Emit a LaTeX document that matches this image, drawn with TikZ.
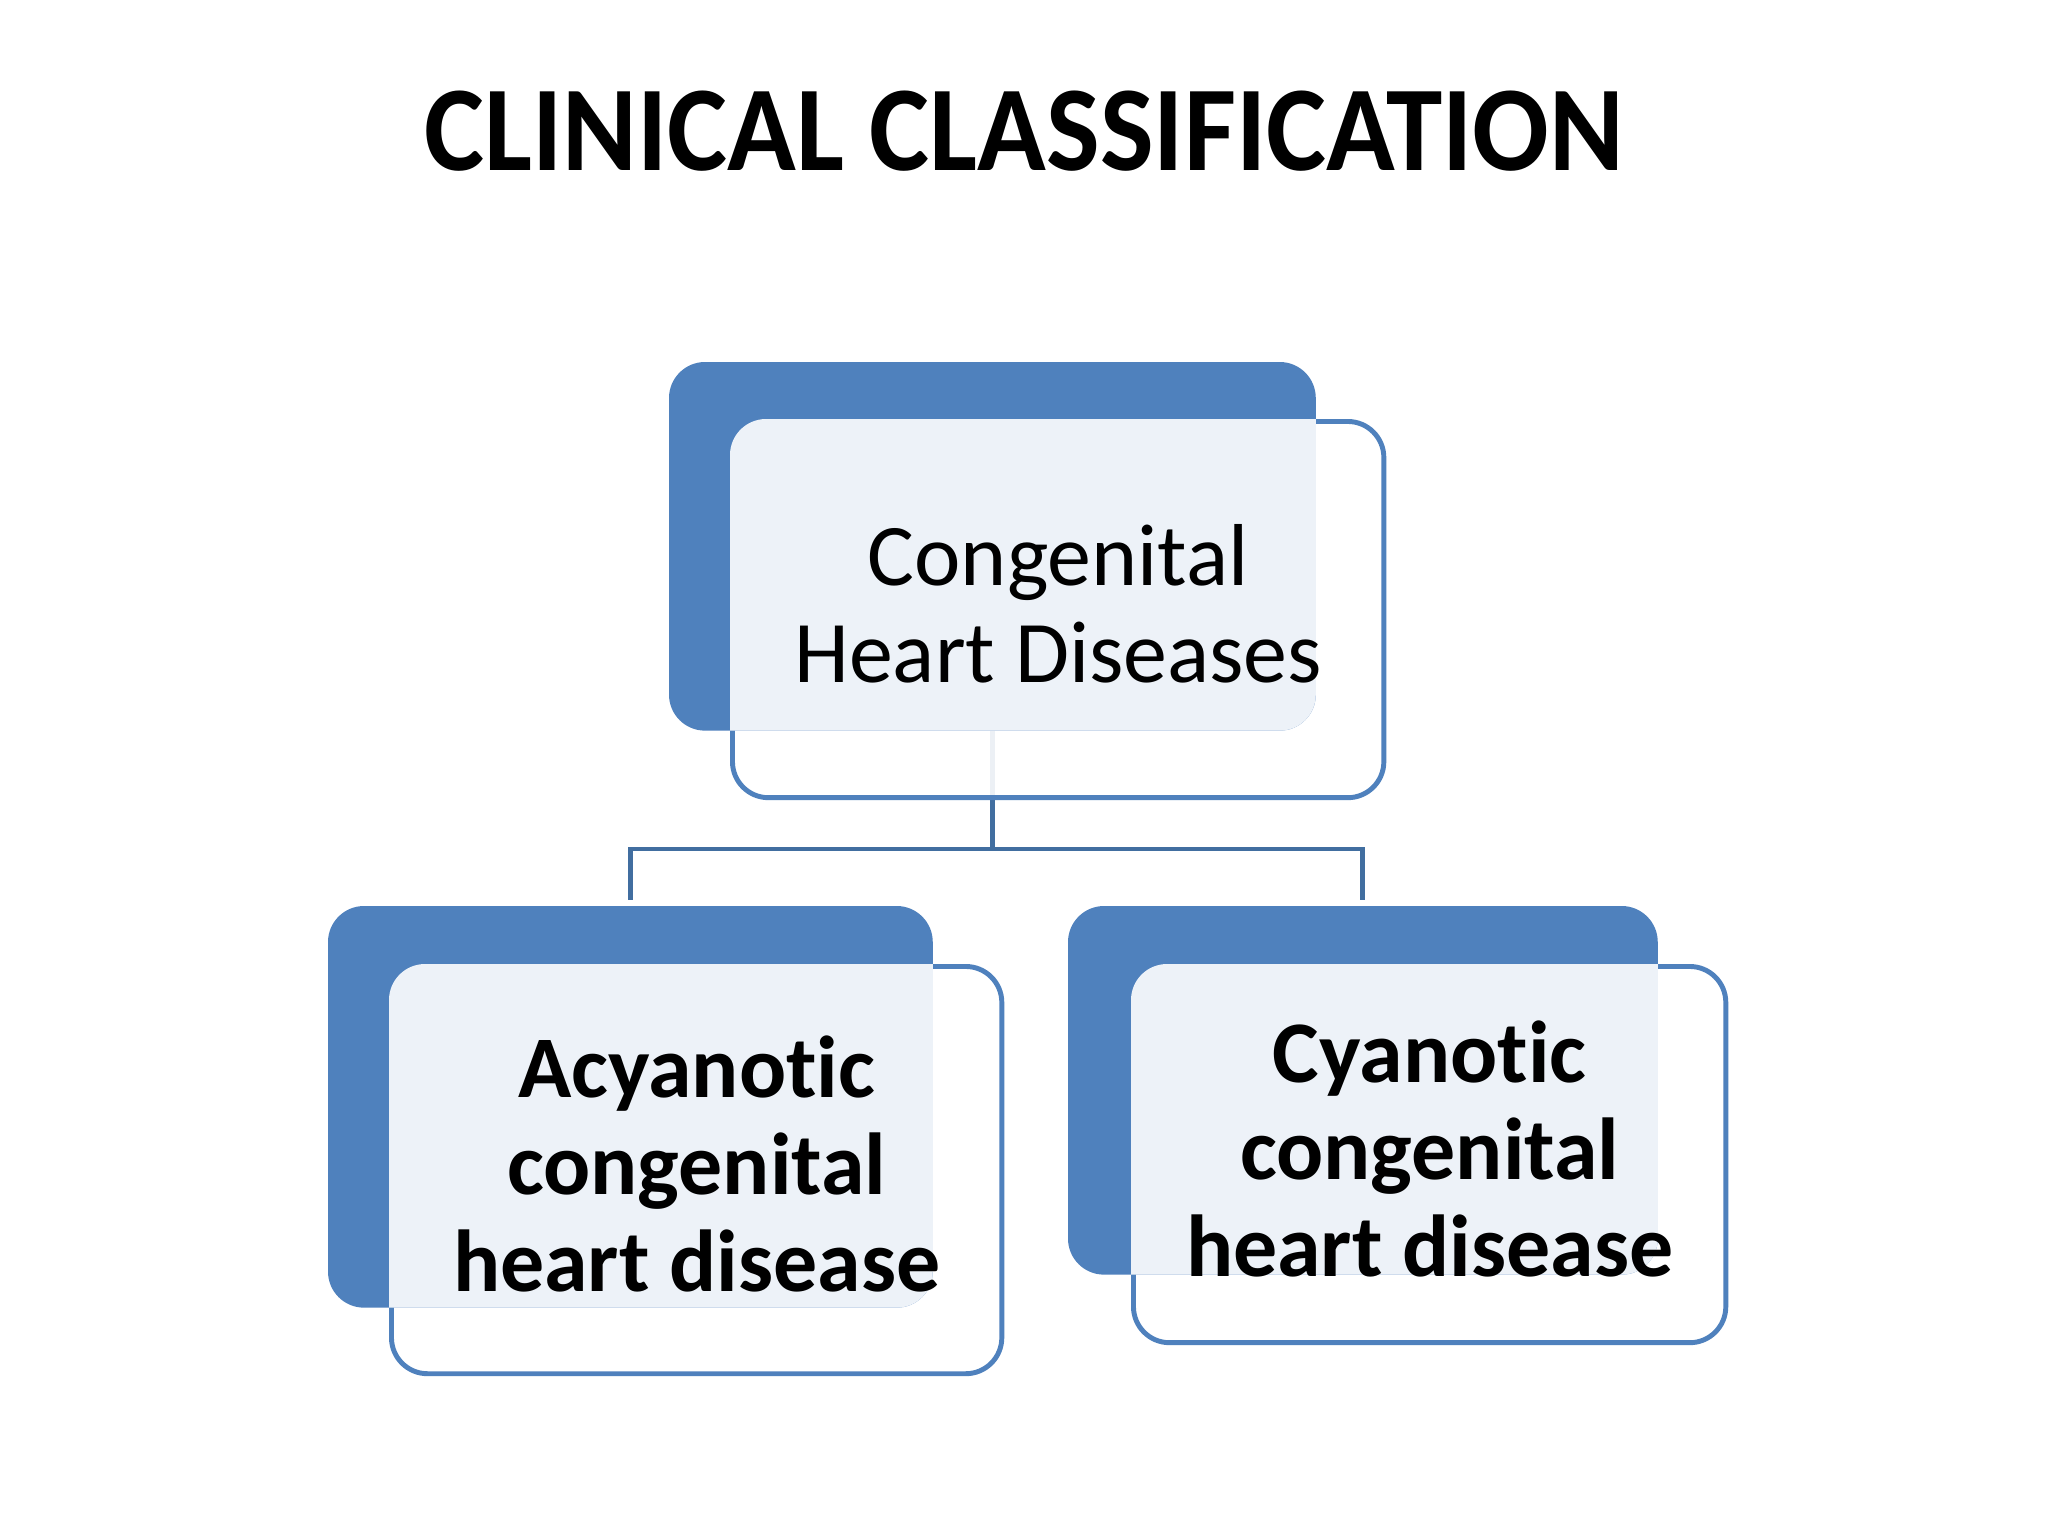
\documentclass[tikz,border=0pt]{standalone}
\usepackage{fontspec}
\setmainfont{Carlito}[Ligatures=NoCommon]
\usetikzlibrary{positioning,calc}
\definecolor{boxblue}{RGB}{79,129,189}
\definecolor{connblue}{RGB}{65,110,160}
\tikzset{
  bluebox/.style={draw=none,fill=boxblue,rounded corners=0.36cm,inner sep=0pt,anchor=north west},
  outbox/.style={draw=boxblue,line width=1.4pt,fill=white,fill opacity=0.9,rounded corners=0.36cm,inner sep=0pt,anchor=north west},
  conn/.style={draw=connblue,line width=1.4pt},
  lbl/.style={align=center,inner sep=0pt,text=black,yshift=0.06cm,font=\fontsize{25}{27.6}\selectfont},
  blbl/.style={lbl,font=\bfseries\fontsize{25}{27.6}\selectfont}
}
\begin{document}
\begin{tikzpicture}[x=0.01cm,y=-0.01cm]
\useasboundingbox[fill=white] (0,0) rectangle (2048,1536);
% title
\node[inner sep=0pt,font=\bfseries\fontsize{34.5}{40}\selectfont] (title) at (1024,131) {\scalebox{0.935}[1]{CLINICAL CLASSIFICATION}};
% blue boxes (geometry)
\node[bluebox,minimum width=6.45cm,minimum height=3.67cm] (topb) at (669,362) {};
\node[bluebox,minimum width=6.03cm,minimum height=4.00cm] (leftb) at (328,906) {};
\node[bluebox,minimum width=5.88cm,minimum height=3.67cm] (rightb) at (1068,906) {};
% connectors (behind)
\coordinate (busL) at (629.5,849);
\coordinate (busR) at (1362,849);
\draw[conn] (topb.south) -- (topb.south |- busL);
\draw[conn,shorten >=0.06cm] (topb.south |- busL) -| (leftb.north);
\draw[conn,shorten >=0.06cm] (topb.south |- busR) -| (rightb.north);
% outline boxes
\node[outbox,minimum width=6.51cm,minimum height=3.76cm] (topo) at (730,419) {};
\node[outbox,minimum width=6.10cm,minimum height=4.07cm] (lefto) at (389,964) {};
\node[outbox,minimum width=5.92cm,minimum height=3.76cm] (righto) at (1131,964) {};
% blue boxes on top
\fill[boxblue,rounded corners=0.36cm] (topb.north west) rectangle (topb.south east);
\fill[boxblue,rounded corners=0.36cm] (leftb.north west) rectangle (leftb.south east);
\fill[boxblue,rounded corners=0.36cm] (rightb.north west) rectangle (rightb.south east);
% light overlap
\begin{scope}
\clip[rounded corners=0.36cm] (topb.north west) rectangle (topb.south east);
\fill[white,opacity=0.9,rounded corners=0.36cm] (topo.north west) rectangle (topo.south east);
\end{scope}
\begin{scope}
\clip[rounded corners=0.36cm] (leftb.north west) rectangle (leftb.south east);
\fill[white,opacity=0.9,rounded corners=0.36cm] (lefto.north west) rectangle (lefto.south east);
\end{scope}
\begin{scope}
\clip[rounded corners=0.36cm] (rightb.north west) rectangle (rightb.south east);
\fill[white,opacity=0.9,rounded corners=0.36cm] (righto.north west) rectangle (righto.south east);
\end{scope}
% labels
\node[lbl] (toptext) at (topo.center) {Congenital\\Heart Diseases};
\node[blbl] (lefttext) at (lefto.center) {Acyanotic\\congenital\\heart disease};
\node[blbl] (righttext) at (righto.center) {Cyanotic\\congenital\\heart disease};
\end{tikzpicture}
\end{document}
